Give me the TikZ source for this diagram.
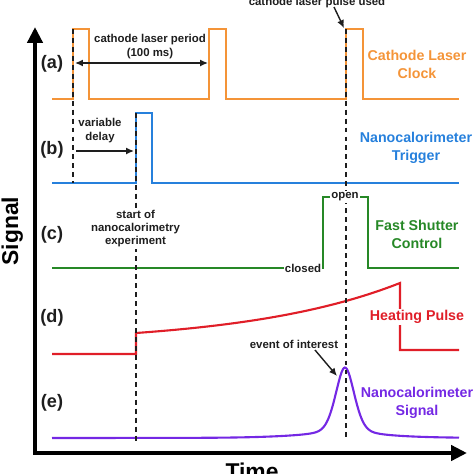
\documentclass[tikz,border=0pt]{standalone}
\usepackage{fontspec}
\setmainfont{Liberation Sans}
\usepackage{tikz}
\usetikzlibrary{arrows.meta,positioning,calc}

\definecolor{clockorange}{RGB}{244,148,56}
\definecolor{triggerblue}{RGB}{38,128,220}
\definecolor{shuttergreen}{RGB}{38,136,38}
\definecolor{heatred}{RGB}{224,30,40}
\definecolor{signalpurple}{RGB}{116,40,228}
\definecolor{notegray}{RGB}{30,30,30}

\tikzset{
  trace/.style={line width=1.2pt, line join=miter},
  guide/.style={line width=1.1pt, dash pattern=on 2.8pt off 2.3pt, notegray},
  note/.style={font=\bfseries\fontsize{6.5}{7.6}\selectfont, text=notegray, align=center, inner sep=0.8pt},
  panel/.style={font=\bfseries\fontsize{10.3}{12}\selectfont, text=notegray},
  tracename/.style={font=\bfseries\fontsize{8.1}{10.2}\selectfont, align=center, inner sep=1pt},
  pointer/.style={line width=0.8pt, notegray},
}

\begin{document}
\begin{tikzpicture}[x=0.02cm,y=-0.02cm,>={Latex[length=4.5pt,width=4pt]}]
\useasboundingbox (0,0) rectangle (474,474);

% axes
\coordinate (ytip) at (35,27);
\coordinate (origin) at (35,453);
\coordinate (xtip) at (467,453);
\draw[line width=2.3pt, line join=miter, {Triangle[length=9pt,width=8.5pt]}-{Triangle[length=9pt,width=8.5pt]}] (ytip) -- (origin) -- (xtip);

\node[rotate=90, anchor=base, font=\bfseries\fontsize{13}{15}\selectfont] (signal) at (18,231) {Signal};
\node[anchor=base, font=\bfseries\fontsize{13}{15}\selectfont] (time) at (252,479.5) {Time};

\node[panel] (pa) at (52,64) {(a)};
\node[panel] (pb) at (52,150) {(b)};
\node[panel] (pc) at (52,235) {(c)};
\node[panel] (pd) at (52,318) {(d)};
\node[panel] (pe) at (52,403) {(e)};

% traces
\draw[trace, clockorange] (52,99) -- (73,99) -- (73,29) -- (89,29) -- (89,99) -- (209,99) -- (209,29) -- (226,29) -- (226,99) -- (346,99) -- (346,29) -- (363,29) -- (363,99) -- (459,99);
\draw[trace, triggerblue] (52,183) -- (136,183) -- (136,113) -- (152,113) -- (152,183) -- (459,183);
\draw[trace, shuttergreen] (52,268) -- (323,268) -- (323,197) -- (368,197) -- (368,268) -- (459,268);
\draw[trace, heatred] (52,354) -- (136,354) -- (136,333) -- plot[domain=136:400, samples=80] (\x, {333-50*(exp(1.7*(\x-136)/264)-1)/(exp(1.7)-1)}) -- (400,350) -- (459,350);
\draw[trace, signalpurple] plot[domain=52:459, samples=400] (\x, {438-2.5*exp(max(-20,-(((\x-340)/70)^2)))-68*(0.35/(1+((\x-345)/11.5)^2)+0.65*exp(max(-20,-(((\x-345)/13.3)^2))))});

% dashed guides
\draw[guide] (73,29) -- (73,183);
\draw[guide] (136,113) -- (136,443);
\draw[guide] (346,29) -- (346,441);

% notes
\node[note] (period) at (150,46.5) {cathode laser period\\(100 ms)};
\coordinate (perL) at (75,63);
\coordinate (perR) at (208,63);
\draw[pointer,<->] (perL) -- (perR);

\node[note] (delay) at (100,130.5) {variable\\delay};
\coordinate (dlyL) at (76,151);
\coordinate (dlyR) at (134,151);
\draw[pointer,->] (dlyL) -- (dlyR);

\node[note, fill=white] (start) at (135.5,228.5) {start of\\nanocalorimetry\\experiment};
\node[note, fill=white] (closed) at (303,268) {closed};
\node[note, fill=white] (open) at (345,197) {open};

\node[note] (event) at (294,344) {event of interest};
\coordinate (evtail) at (315,350);
\coordinate (evtip) at (337,376);
\draw[pointer,->] (evtail) -- (evtip);

\node[note, anchor=base] (used) at (317,5.5) {cathode laser pulse used};
\coordinate (usetail) at (334,7);
\coordinate (usetip) at (344,28);
\draw[pointer,->] (usetail) -- (usetip);

% trace names
\node[tracename, text=clockorange] (clocklbl) at (417,64) {Cathode Laser\\Clock};
\node[tracename, text=triggerblue] (triglbl) at (416,148) {Nanocalorimeter\\Trigger};
\node[tracename, text=shuttergreen] (shutlbl) at (417,234.5) {Fast Shutter\\Control};
\node[tracename, text=heatred, fill=white] (heatlbl) at (417,317) {Heating Pulse};
\node[tracename, text=signalpurple] (siglbl) at (417,403) {Nanocalorimeter\\Signal};
\end{tikzpicture}
\end{document}
